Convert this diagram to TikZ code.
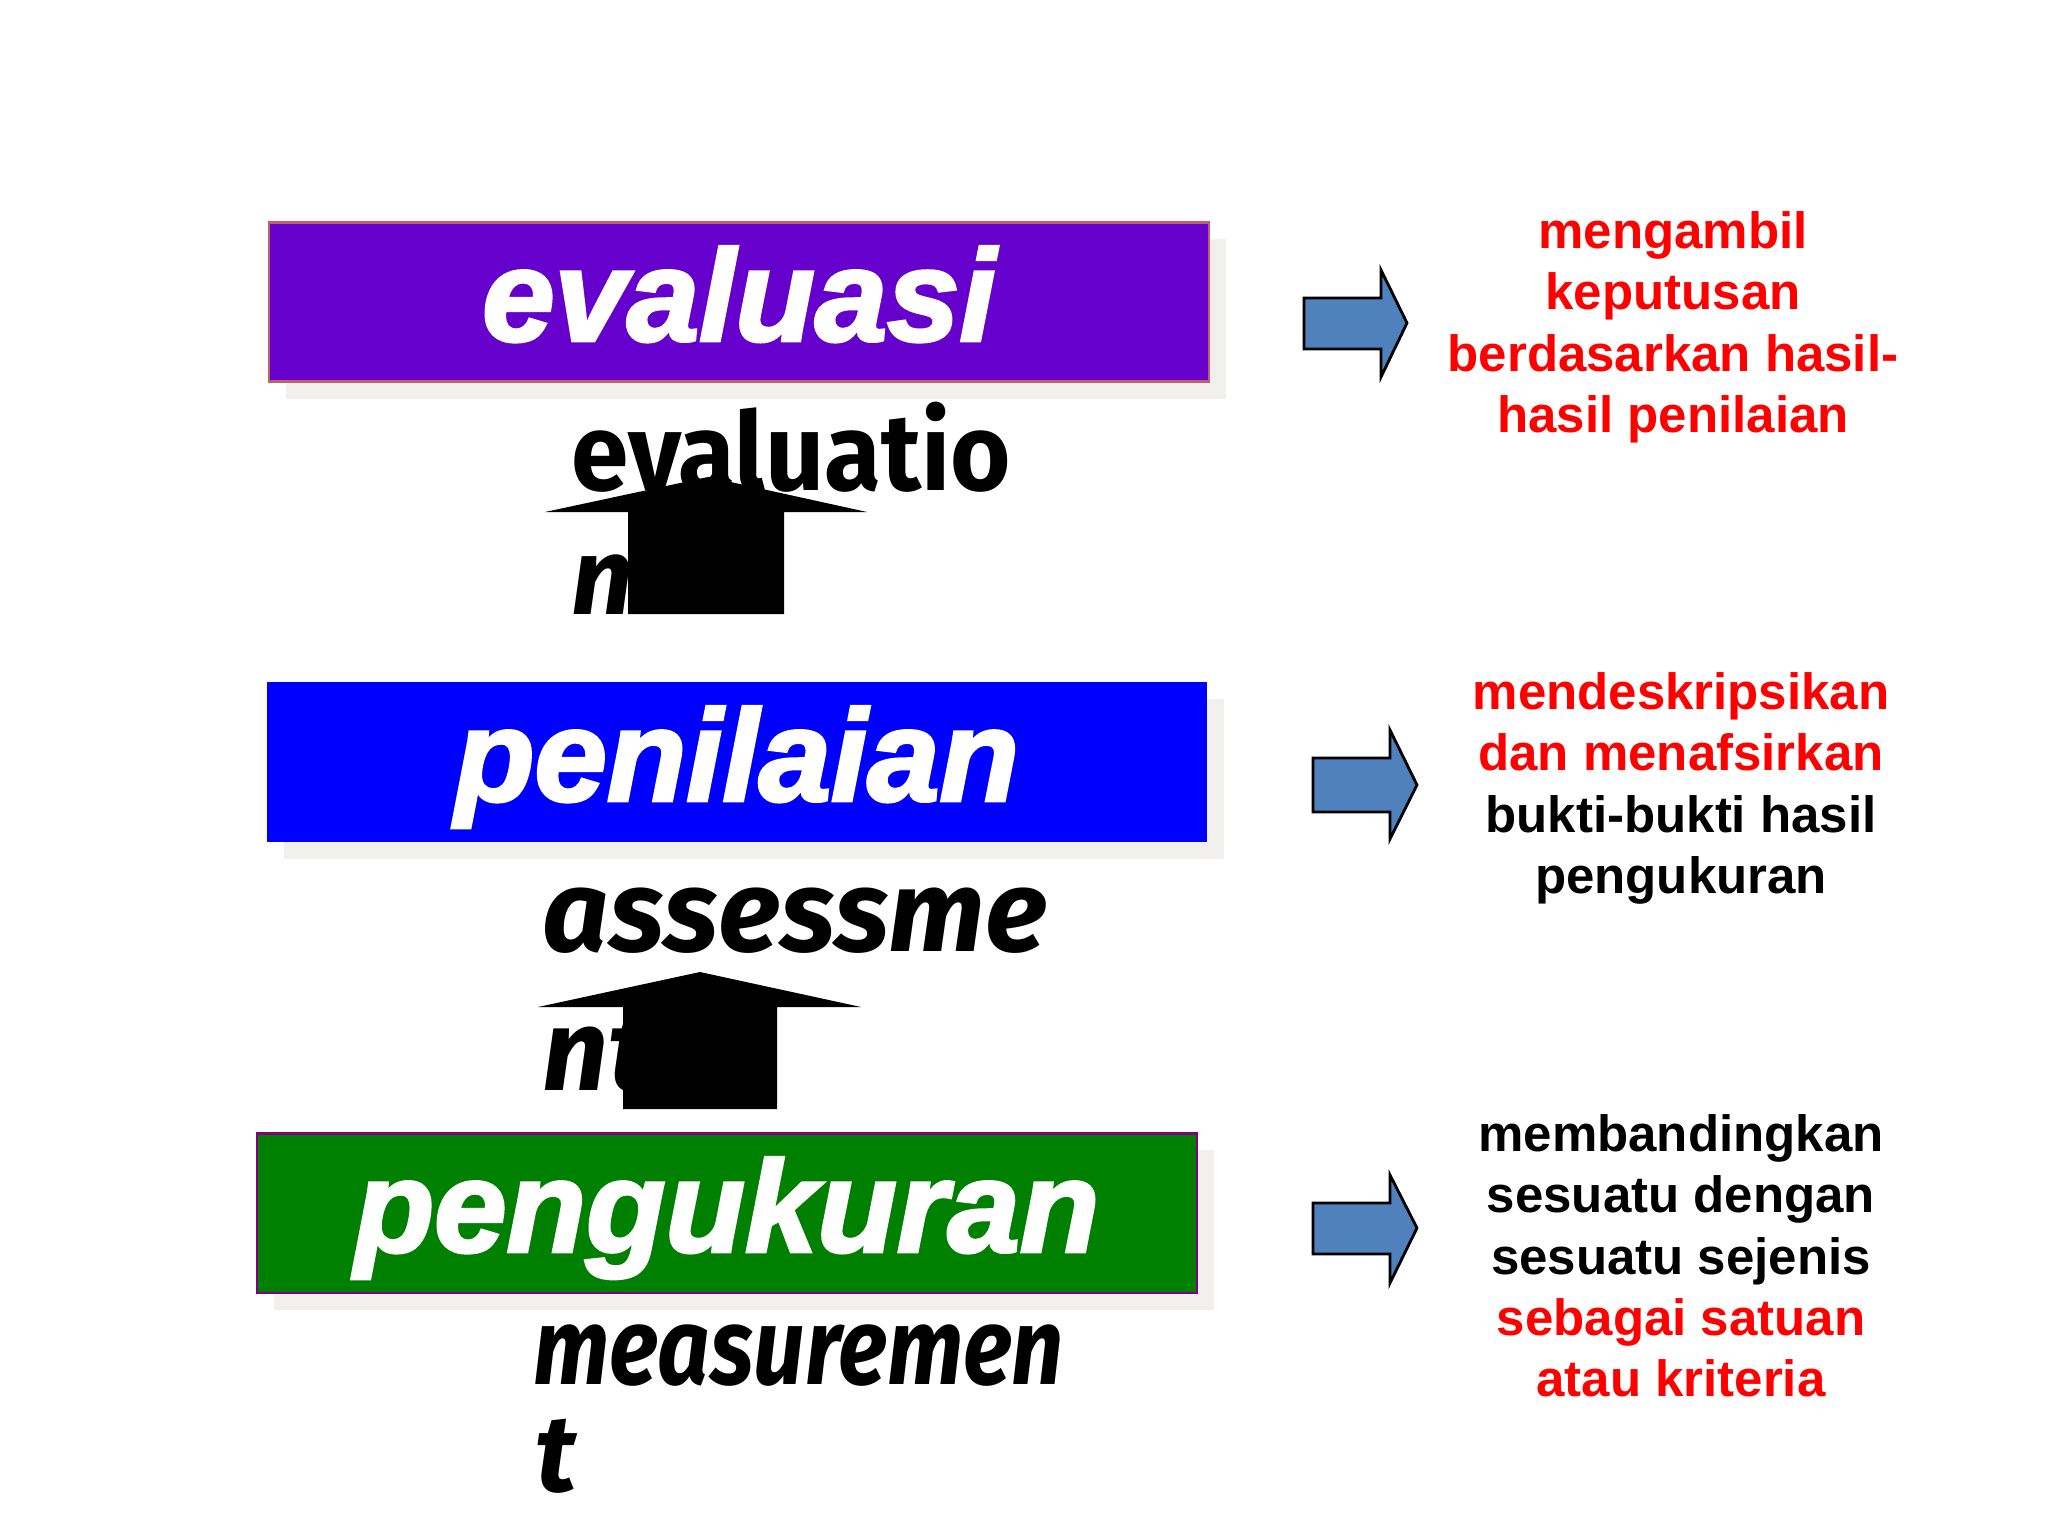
\documentclass[tikz,border=0pt]{standalone}
\usepackage{fontspec}
\setmainfont{Liberation Sans}
\newfontfamily\tebal{Liberation Sans}[BoldItalicFeatures={FakeBold=2.5}]
\newfontfamily\komik{Fira Sans}
\usetikzlibrary{shapes,arrows,calc,shadows}

\definecolor{ungu}{HTML}{6600CC}
\definecolor{biru}{HTML}{0000FF}
\definecolor{hijau}{HTML}{008000}
\definecolor{merah}{HTML}{FF0000}
\definecolor{panahbiru}{HTML}{4F81BD}
\definecolor{bayang}{HTML}{F2F0EE}
\definecolor{tepiungu}{HTML}{C0606A}

\tikzset{
  judul/.style={minimum width=9.4cm, minimum height=1.59cm, inner sep=0, line width=0.6pt,
    text=white, font=\tebal\bfseries\itshape\fontsize{37}{40}\selectfont,
    text height=22pt, text depth=0pt,
    general shadow={fill=bayang, shadow xshift=0.17cm, shadow yshift=-0.17cm}},
  istilah/.style={anchor=base west, inner sep=0, font=\komik\bfseries\fontsize{31}{36}\selectfont},
  keterangan/.style={anchor=north, inner sep=0, align=center, font=\bfseries\fontsize{14.5}{17.4}\selectfont},
  panah/.style={fill=panahbiru, draw=black, line width=0.8pt, line join=miter},
  naik/.style={fill=black}
}

\begin{document}
\begin{tikzpicture}[x=0.01cm, y=-0.01cm]
\useasboundingbox (0,0) rectangle (2048,1536);

% kotak judul
\node[judul, fill=ungu, draw=tepiungu] (evaluasi) at (739,302) {evaluasi};
\node[judul, fill=biru] (penilaian) at (737,762) {penilaian};
\node[judul, fill=hijau, draw=violet] (pengukuran) at (727,1213) {pengukuran};

% istilah inggris
\node[istilah] (evaluation) at (571,490) {\scalebox{0.95}[1]{evaluatio}};
\node[istilah] (evaluationN) at (571,614) {\itshape n};
\node[istilah] (assessment) at (542,951) {\itshape\fontsize{33}{36}\selectfont assessme};
\node[istilah] (assessmentN) at (542,1090) {\itshape\fontsize{33}{36}\selectfont nt};
\node[istilah] (measurement) at (533,1384) {\itshape\scalebox{0.84}[1]{measuremen}};
\node[istilah] (measurementT) at (535,1491) {\itshape t};

% panah naik
\fill[naik] (628,614) -- (628,512) -- (545,512) -- (708,477) -- (867,512) -- (784,512) -- (784,614) -- cycle;
\fill[naik] (623,1109) -- (623,1007) -- (538,1007) -- (700,972) -- (861,1007) -- (777,1007) -- (777,1109) -- cycle;

% panah ke kanan
\draw[panah] (1304,298) -- (1381,298) -- (1381,270) -- (1407,323) -- (1381,377) -- (1381,349) -- (1304,349) -- cycle;
\draw[panah] (1313,758) -- (1390,758) -- (1390,730) -- (1417,785) -- (1390,839) -- (1390,812) -- (1313,812) -- cycle;
\draw[panah] (1313,1203) -- (1390,1203) -- (1390,1175) -- (1417,1228) -- (1390,1283) -- (1390,1254) -- (1313,1254) -- cycle;

% keterangan
\node[keterangan, text=merah] (ketEvaluasi) at (1673,211) {mengambil\\keputusan\\berdasarkan hasil-\\hasil penilaian};
\node[keterangan] (ketPenilaian) at (1681,672) {\textcolor{merah}{mendeskripsikan}\\\textcolor{merah}{dan menafsirkan}\\bukti-bukti hasil\\pengukuran};
\node[keterangan] (ketPengukuran) at (1681,1114) {membandingkan\\sesuatu dengan\\sesuatu sejenis\\\textcolor{merah}{sebagai satuan}\\\textcolor{merah}{atau kriteria}};

\end{tikzpicture}
\end{document}
